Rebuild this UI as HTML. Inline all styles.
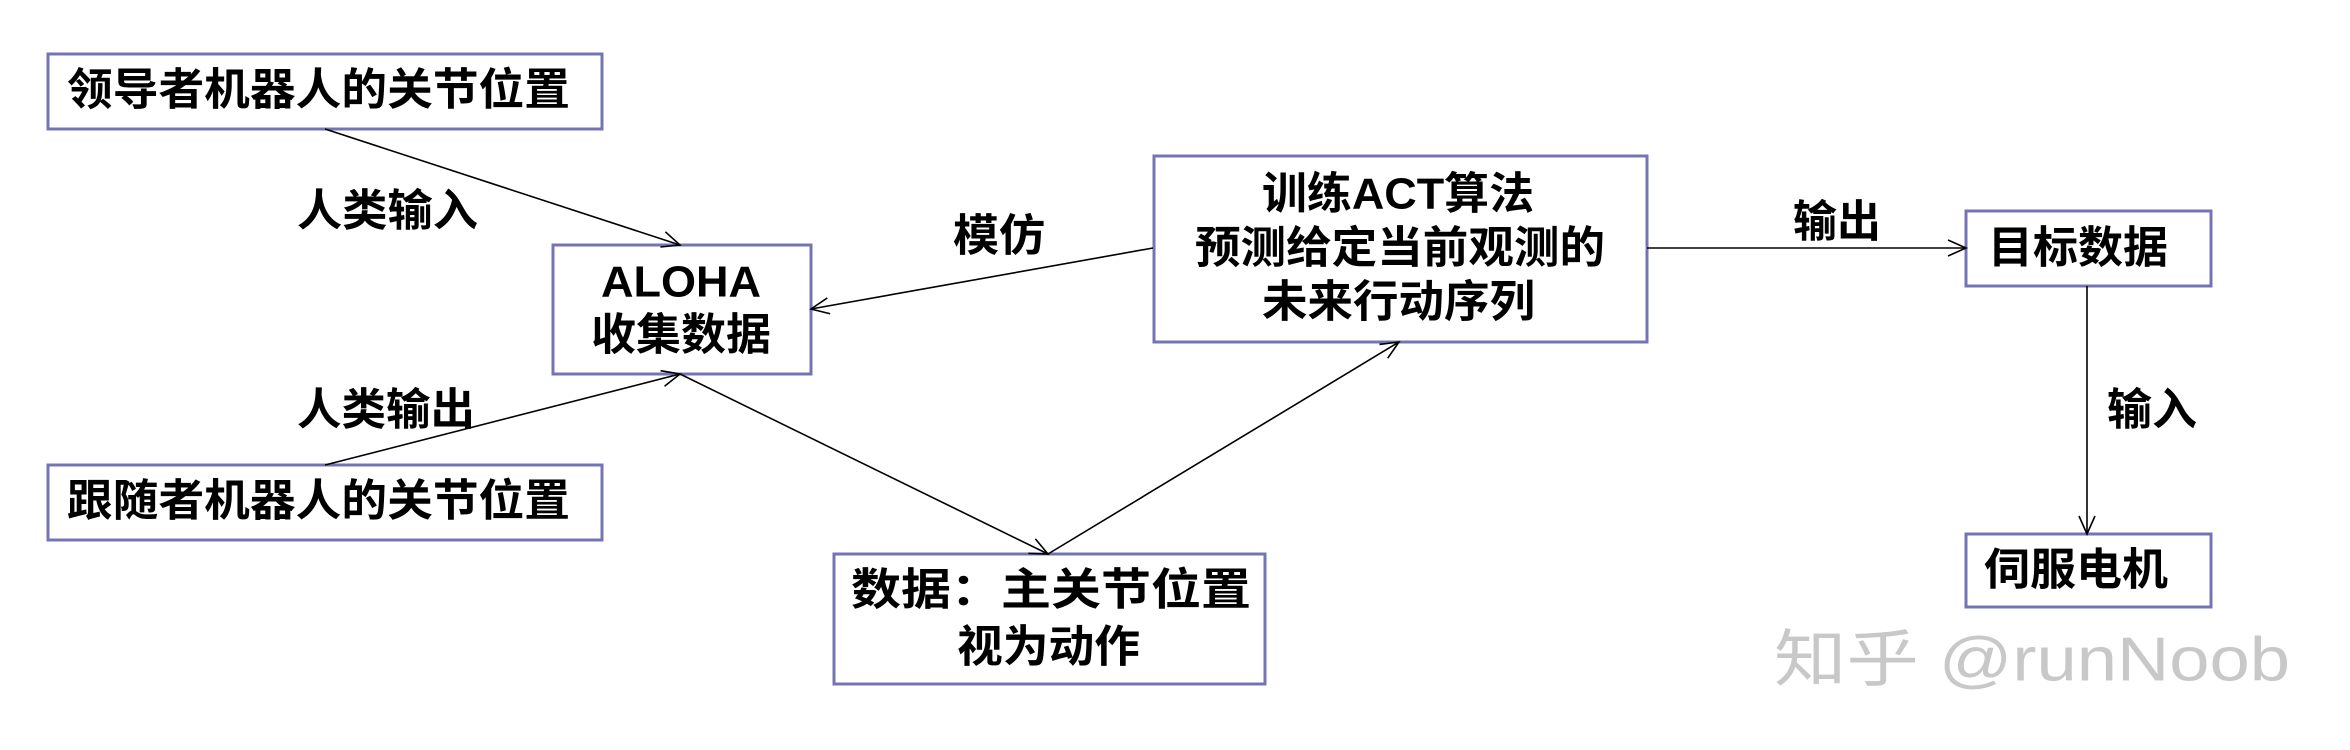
<!DOCTYPE html>
<html><head><meta charset="utf-8"><style>html,body{margin:0;padding:0;background:#fff}svg{display:block}</style></head>
<body>
<svg width="2350" height="750" viewBox="0 0 2350 750" xmlns="http://www.w3.org/2000/svg" font-family="'Liberation Sans','Noto Sans CJK SC',sans-serif">
<defs>
<marker id="a" markerWidth="22" markerHeight="22" refX="20" refY="11" orient="auto" markerUnits="userSpaceOnUse">
<path d="M2,3 L20,11 L2,19" fill="none" stroke="#000" stroke-width="1.6"/>
</marker>
</defs>
<g fill="#fff" stroke="#7474b4" stroke-width="3">
<rect x="48" y="54" width="554" height="75"/>
<rect x="48" y="465" width="554" height="75"/>
<rect x="553" y="245" width="258" height="129"/>
<rect x="834" y="554" width="431" height="130"/>
<rect x="1154" y="156" width="493" height="186"/>
<rect x="1966" y="211" width="245" height="75"/>
<rect x="1966" y="534" width="245" height="73"/>
</g>
<g stroke="#000" stroke-width="1.6" fill="none" marker-end="url(#a)">
<line x1="325" y1="129" x2="680" y2="245"/>
<line x1="325" y1="465" x2="680" y2="374"/>
<line x1="1153" y1="248" x2="811" y2="309"/>
<line x1="680" y1="374" x2="1048" y2="554"/>
<line x1="1048" y1="554" x2="1399" y2="342"/>
<line x1="1647" y1="248" x2="1966" y2="248"/>
<line x1="2087" y1="286" x2="2087" y2="534"/>
</g>
<g fill="#000" font-size="44" font-weight="bold" dominant-baseline="central">
<text x="67" y="90" textLength="503" lengthAdjust="spacingAndGlyphs">领导者机器人的关节位置</text>
<text x="67" y="501" textLength="503" lengthAdjust="spacingAndGlyphs">跟随者机器人的关节位置</text>
<text x="297" y="211" textLength="181" lengthAdjust="spacingAndGlyphs">人类输入</text>
<text x="297" y="410" textLength="178" lengthAdjust="spacingAndGlyphs">人类输出</text>
<text x="953" y="236" textLength="92" lengthAdjust="spacingAndGlyphs">模仿</text>
<text x="1793" y="222" textLength="88" lengthAdjust="spacingAndGlyphs">输出</text>
<text x="2107" y="410" textLength="90" lengthAdjust="spacingAndGlyphs">输入</text>
<text x="601" y="282" textLength="160" lengthAdjust="spacingAndGlyphs">ALOHA</text>
<text x="591" y="335" textLength="180" lengthAdjust="spacingAndGlyphs">收集数据</text>
<text x="1262" y="194" textLength="272" lengthAdjust="spacingAndGlyphs">训练ACT算法</text>
<text x="1195" y="248" textLength="410" lengthAdjust="spacingAndGlyphs">预测给定当前观测的</text>
<text x="1262" y="302" textLength="273" lengthAdjust="spacingAndGlyphs">未来行动序列</text>
<text x="851" y="590" textLength="400" lengthAdjust="spacingAndGlyphs">数据：主关节位置</text>
<text x="957" y="647" textLength="183" lengthAdjust="spacingAndGlyphs">视为动作</text>
<text x="1988" y="248" textLength="180" lengthAdjust="spacingAndGlyphs">目标数据</text>
<text x="1984" y="570" textLength="184" lengthAdjust="spacingAndGlyphs">伺服电机</text>
</g>
<text x="1774" y="660" font-size="62" fill="#c8c8c8" dominant-baseline="central" textLength="516" lengthAdjust="spacingAndGlyphs">知乎 @runNoob</text>
</svg>
</body></html>
